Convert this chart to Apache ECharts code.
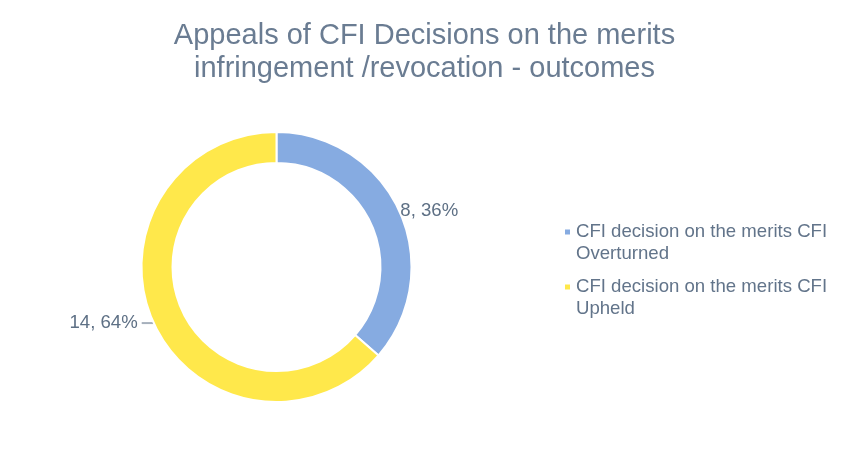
<!DOCTYPE html>
<html>
<head>
<meta charset="utf-8">
<script src="https://cdn.jsdelivr.net/npm/echarts@6/dist/echarts.min.js"></script>
<style>
  html, body { margin: 0; padding: 0; background: #fff; }
  #chart { width: 849px; height: 450px; }
</style>
</head>
<body>
<div id="chart"></div>
<script>
// data
var outcomes = ['CFI decision on the merits CFI Overturned', 'CFI decision on the merits CFI Upheld'];
var counts = [8, 14];
var sliceColors = ['#86ABE1', '#FFE84B'];

var textColor = '#5E7085';
var fontName = '"Liberation Sans", Arial, sans-serif';

var pieData = [];
for (var i = 0; i < outcomes.length; i++) {
    pieData.push({
        name: outcomes[i],
        value: counts[i],
        itemStyle: { color: sliceColors[i] }
    });
}
// first slice: label just outside, no leader line
pieData[0].labelLine = { show: false, length: 0, length2: 0 };
pieData[0].label = { distanceToLabelLine: 1 };
// second slice: short horizontal leader line
pieData[1].labelLine = { show: true, length: 0, length2: 12 };

var myChart = echarts.init(document.getElementById('chart'));

var option = {
    animation: false,
    title: {
        text: 'Appeals of CFI Decisions on the merits\ninfringement /revocation - outcomes',
        left: 'center',
        top: 14,
        textStyle: {
            fontFamily: fontName,
            fontSize: 29,
            fontWeight: 'normal',
            color: '#6A7C92',
            lineHeight: 33
        }
    },
    legend: {
        orient: 'vertical',
        left: 563,
        top: 199,
        padding: 0,
        itemGap: -11,
        itemWidth: 7,
        itemHeight: 7,
        icon: 'rect',
        selectedMode: false,
        data: outcomes,
        // empty first line so the marker sits beside the first text line
        formatter: function (name) {
            return '\n' + name;
        },
        textStyle: {
            fontFamily: fontName,
            fontSize: 18.6,
            color: '#62748A',
            lineHeight: 22,
            width: 262,
            overflow: 'break'
        }
    },
    series: [
        {
            type: 'pie',
            center: [276.5, 267],
            radius: [104, 135],
            startAngle: 90,
            clockwise: true,
            avoidLabelOverlap: false,
            itemStyle: {
                borderColor: '#ffffff',
                borderWidth: 2
            },
            label: {
                show: true,
                position: 'outside',
                formatter: function (p) {
                    return p.value + ', ' + Math.round(p.percent) + '%';
                },
                fontFamily: fontName,
                fontSize: 18.6,
                color: textColor,
                distanceToLabelLine: 4
            },
            labelLine: {
                lineStyle: { color: '#A6B0BC', width: 2 }
            },
            emphasis: { disabled: true },
            data: pieData
        }
    ]
};

myChart.setOption(option);
</script>
</body>
</html>
